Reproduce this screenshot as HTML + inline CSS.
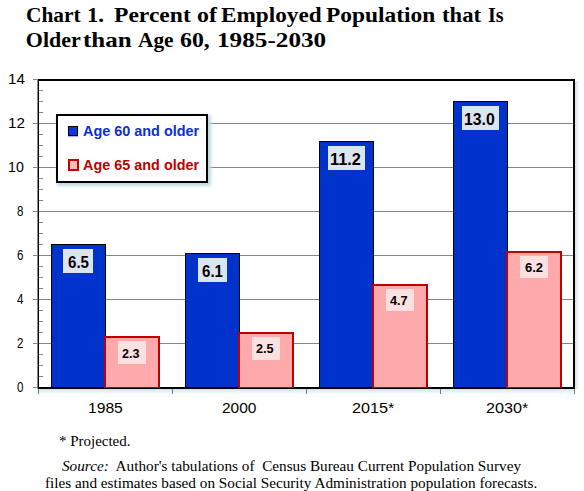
<!DOCTYPE html>
<html><head><meta charset="utf-8"><style>
html,body{margin:0;padding:0;background:#fff;}
body{width:584px;height:491px;position:relative;overflow:hidden;}
div{position:absolute;}
.tx{white-space:pre;transform-origin:0 0;line-height:normal;}
</style></head><body>
<div style="left:33px;top:343px;width:540px;height:1px;background:#878787"></div>
<div style="left:33px;top:299px;width:540px;height:1px;background:#878787"></div>
<div style="left:33px;top:255px;width:540px;height:1px;background:#878787"></div>
<div style="left:33px;top:211px;width:540px;height:1px;background:#878787"></div>
<div style="left:33px;top:167px;width:540px;height:1px;background:#878787"></div>
<div style="left:33px;top:123px;width:540px;height:1px;background:#878787"></div>
<div style="left:33px;top:387px;width:5px;height:1px;background:#878787"></div>
<div style="left:33px;top:79px;width:5px;height:1px;background:#878787"></div>
<div style="left:39px;top:376px;width:4px;height:1px;background:#878787"></div>
<div style="left:39px;top:365px;width:4px;height:1px;background:#878787"></div>
<div style="left:39px;top:354px;width:4px;height:1px;background:#878787"></div>
<div style="left:39px;top:332px;width:4px;height:1px;background:#878787"></div>
<div style="left:39px;top:321px;width:4px;height:1px;background:#878787"></div>
<div style="left:39px;top:310px;width:4px;height:1px;background:#878787"></div>
<div style="left:39px;top:288px;width:4px;height:1px;background:#878787"></div>
<div style="left:39px;top:277px;width:4px;height:1px;background:#878787"></div>
<div style="left:39px;top:266px;width:4px;height:1px;background:#878787"></div>
<div style="left:39px;top:244px;width:4px;height:1px;background:#878787"></div>
<div style="left:39px;top:233px;width:4px;height:1px;background:#878787"></div>
<div style="left:39px;top:222px;width:4px;height:1px;background:#878787"></div>
<div style="left:39px;top:200px;width:4px;height:1px;background:#878787"></div>
<div style="left:39px;top:189px;width:4px;height:1px;background:#878787"></div>
<div style="left:39px;top:178px;width:4px;height:1px;background:#878787"></div>
<div style="left:39px;top:156px;width:4px;height:1px;background:#878787"></div>
<div style="left:39px;top:145px;width:4px;height:1px;background:#878787"></div>
<div style="left:39px;top:134px;width:4px;height:1px;background:#878787"></div>
<div style="left:39px;top:112px;width:4px;height:1px;background:#878787"></div>
<div style="left:39px;top:101px;width:4px;height:1px;background:#878787"></div>
<div style="left:39px;top:90px;width:4px;height:1px;background:#878787"></div>
<div style="left:39px;top:389px;width:536px;height:5px;background:linear-gradient(#d0e5ec,#fdfefe)"></div>
<div style="left:38px;top:389px;width:1px;height:5px;background:#7a7a7a"></div>
<div style="left:172px;top:389px;width:1px;height:5px;background:#7a7a7a"></div>
<div style="left:306px;top:389px;width:1px;height:5px;background:#7a7a7a"></div>
<div style="left:440px;top:389px;width:1px;height:5px;background:#7a7a7a"></div>
<div style="left:574px;top:389px;width:1px;height:5px;background:#7a7a7a"></div>
<div style="left:575px;top:81px;width:5px;height:308px;background:linear-gradient(90deg,#d2e3ea,#ffffff)"></div>
<div style="left:37px;top:79px;width:1px;height:310px;background:#8a8a8a"></div>
<div style="left:38px;top:79px;width:1px;height:310px;background:#000"></div>
<div style="left:38px;top:387px;width:537px;height:2px;background:#000"></div>
<div style="left:51px;top:244px;width:55px;height:144px;box-sizing:border-box;border:1px solid #000;background:#0032cc"></div>
<div style="left:185px;top:253px;width:55px;height:135px;box-sizing:border-box;border:1px solid #000;background:#0032cc"></div>
<div style="left:319px;top:141px;width:55px;height:247px;box-sizing:border-box;border:1px solid #000;background:#0032cc"></div>
<div style="left:453px;top:101px;width:55px;height:287px;box-sizing:border-box;border:1px solid #000;background:#0032cc"></div>
<div style="left:104px;top:336px;width:56px;height:53px;box-sizing:border-box;border:2px solid #c00000;background:#ffaaaa"></div>
<div style="left:238px;top:332px;width:56px;height:57px;box-sizing:border-box;border:2px solid #c00000;background:#ffaaaa"></div>
<div style="left:372px;top:284px;width:56px;height:105px;box-sizing:border-box;border:2px solid #c00000;background:#ffaaaa"></div>
<div style="left:506px;top:251px;width:56px;height:138px;box-sizing:border-box;border:2px solid #c00000;background:#ffaaaa"></div>
<div style="left:63px;top:249px;width:30px;height:24px;background:#dce4f0"></div>
<div style="left:198px;top:258px;width:29px;height:24px;background:#dce4f0"></div>
<div style="left:328px;top:146px;width:37px;height:24px;background:#dce4f0"></div>
<div style="left:462px;top:106px;width:37px;height:24px;background:#dce4f0"></div>
<div style="left:118px;top:341px;width:28px;height:23px;background:#fde0e0"></div>
<div style="left:252px;top:337px;width:28px;height:23px;background:#fde0e0"></div>
<div style="left:386px;top:289px;width:28px;height:22px;background:#fde0e0"></div>
<div style="left:520px;top:256px;width:28px;height:22px;background:#fde0e0"></div>
<div style="left:38px;top:388px;width:537px;height:1px;background:#000"></div>
<div style="left:38px;top:79px;width:537px;height:2px;background:#000"></div>
<div style="left:573px;top:79px;width:2px;height:310px;background:#000"></div>
<div style="left:56px;top:114px;width:152px;height:69px;box-sizing:border-box;border:2px solid #000;background:#fff;box-shadow:2px 2px 3px 1px #c0d9e1"></div>
<div style="left:68px;top:126px;width:10px;height:10px;box-sizing:border-box;border:1px solid #000;background:#1034e0;box-shadow:0 1px 1px #a9b9f0"></div>
<div style="left:68px;top:159px;width:11px;height:12px;box-sizing:border-box;border:2px solid #c80000;background:#ffbcbc"></div>
<div class="tx" style="left:26.23px;top:1.60px;transform:scaleX(0.9714);font-family:'Liberation Serif',serif;font-weight:bold;font-size:22px;color:#000">Chart</div>
<div class="tx" style="left:86.67px;top:1.60px;transform:scaleX(1.0333);font-family:'Liberation Serif',serif;font-weight:bold;font-size:22px;color:#000">1.</div>
<div class="tx" style="left:113.70px;top:1.60px;transform:scaleX(1.0708);font-family:'Liberation Serif',serif;font-weight:bold;font-size:22px;color:#000">Percent</div>
<div class="tx" style="left:196.80px;top:1.60px;transform:scaleX(1.0842);font-family:'Liberation Serif',serif;font-weight:bold;font-size:22px;color:#000">of</div>
<div class="tx" style="left:220.80px;top:1.60px;transform:scaleX(1.0558);font-family:'Liberation Serif',serif;font-weight:bold;font-size:22px;color:#000">Employed</div>
<div class="tx" style="left:326.20px;top:1.60px;transform:scaleX(1.0650);font-family:'Liberation Serif',serif;font-weight:bold;font-size:22px;color:#000">Population</div>
<div class="tx" style="left:442.00px;top:1.60px;transform:scaleX(1.0289);font-family:'Liberation Serif',serif;font-weight:bold;font-size:22px;color:#000">that</div>
<div class="tx" style="left:488.00px;top:1.60px;transform:scaleX(0.9118);font-family:'Liberation Serif',serif;font-weight:bold;font-size:22px;color:#000">Is</div>
<div class="tx" style="left:25.80px;top:27.40px;font-family:'Liberation Serif',serif;font-weight:bold;font-size:22px;color:#000">Older</div>
<div class="tx" style="left:83.40px;top:27.40px;transform:scaleX(1.1372);font-family:'Liberation Serif',serif;font-weight:bold;font-size:22px;color:#000">than</div>
<div class="tx" style="left:138.30px;top:27.40px;transform:scaleX(0.9703);font-family:'Liberation Serif',serif;font-weight:bold;font-size:22px;color:#000">Age</div>
<div class="tx" style="left:180.20px;top:27.40px;transform:scaleX(1.0815);font-family:'Liberation Serif',serif;font-weight:bold;font-size:22px;color:#000">60,</div>
<div class="tx" style="left:216.85px;top:27.40px;transform:scaleX(1.1457);font-family:'Liberation Serif',serif;font-weight:bold;font-size:22px;color:#000">1985-2030</div>
<div class="tx" style="left:68.00px;top:254.00px;transform:scaleX(0.9545);font-family:'Liberation Sans',sans-serif;font-weight:bold;font-size:15.8px;color:#000">6.5</div>
<div class="tx" style="left:202.00px;top:263.00px;transform:scaleX(0.9545);font-family:'Liberation Sans',sans-serif;font-weight:bold;font-size:15.8px;color:#000">6.1</div>
<div class="tx" style="left:329.97px;top:151.00px;transform:scaleX(1.0345);font-family:'Liberation Sans',sans-serif;font-weight:bold;font-size:15.8px;color:#000">11.2</div>
<div class="tx" style="left:464.00px;top:111.00px;font-family:'Liberation Sans',sans-serif;font-weight:bold;font-size:15.8px;color:#000">13.0</div>
<div class="tx" style="left:122.00px;top:346.00px;transform:scaleX(0.9667);font-family:'Liberation Sans',sans-serif;font-weight:bold;font-size:13px;color:#000">2.3</div>
<div class="tx" style="left:256.00px;top:341.00px;transform:scaleX(0.9722);font-family:'Liberation Sans',sans-serif;font-weight:bold;font-size:13px;color:#000">2.5</div>
<div class="tx" style="left:390.00px;top:293.00px;transform:scaleX(0.9778);font-family:'Liberation Sans',sans-serif;font-weight:bold;font-size:13px;color:#000">4.7</div>
<div class="tx" style="left:525.00px;top:260.00px;font-family:'Liberation Sans',sans-serif;font-weight:bold;font-size:13px;color:#000">6.2</div>
<div class="tx" style="left:17.40px;top:379.40px;transform:scaleX(0.8250);font-family:'Liberation Sans',sans-serif;font-size:14px;color:#000">0</div>
<div class="tx" style="left:17.40px;top:335.40px;transform:scaleX(0.8250);font-family:'Liberation Sans',sans-serif;font-size:14px;color:#000">2</div>
<div class="tx" style="left:17.40px;top:291.40px;transform:scaleX(0.8250);font-family:'Liberation Sans',sans-serif;font-size:14px;color:#000">4</div>
<div class="tx" style="left:17.40px;top:247.40px;transform:scaleX(0.8250);font-family:'Liberation Sans',sans-serif;font-size:14px;color:#000">6</div>
<div class="tx" style="left:17.40px;top:203.40px;transform:scaleX(0.8250);font-family:'Liberation Sans',sans-serif;font-size:14px;color:#000">8</div>
<div class="tx" style="left:7.79px;top:159.40px;transform:scaleX(1.0133);font-family:'Liberation Sans',sans-serif;font-size:14px;color:#000">10</div>
<div class="tx" style="left:7.71px;top:115.40px;transform:scaleX(1.0857);font-family:'Liberation Sans',sans-serif;font-size:14px;color:#000">12</div>
<div class="tx" style="left:7.71px;top:71.40px;transform:scaleX(1.0857);font-family:'Liberation Sans',sans-serif;font-size:14px;color:#000">14</div>
<div class="tx" style="left:87.66px;top:399.00px;transform:scaleX(1.0437);font-family:'Liberation Sans',sans-serif;font-size:15px;color:#000">1985</div>
<div class="tx" style="left:222.00px;top:399.00px;transform:scaleX(1.0303);font-family:'Liberation Sans',sans-serif;font-size:15px;color:#000">2000</div>
<div class="tx" style="left:352.00px;top:399.00px;transform:scaleX(1.0769);font-family:'Liberation Sans',sans-serif;font-size:15px;color:#000">2015*</div>
<div class="tx" style="left:486.00px;top:399.00px;transform:scaleX(1.0769);font-family:'Liberation Sans',sans-serif;font-size:15px;color:#000">2030*</div>
<div class="tx" style="left:82.50px;top:121.60px;transform:scaleX(0.9363);font-family:'Liberation Sans',sans-serif;font-weight:bold;font-size:15.4px;color:#0a2ed8">Age 60 and older</div>
<div class="tx" style="left:82.50px;top:155.60px;transform:scaleX(0.9363);font-family:'Liberation Sans',sans-serif;font-weight:bold;font-size:15.4px;color:#c00000">Age 65 and older</div>
<div class="tx" style="left:58.75px;top:433.20px;transform:scaleX(0.9979);font-family:'Liberation Serif',serif;font-size:15px;color:#000">* Projected.</div>
<div class="tx" style="left:61.60px;top:458.00px;transform:scaleX(1.0153);font-family:'Liberation Serif',serif;font-size:15px;color:#000"><i>Source:</i>  Author's tabulations of  Census Bureau Current Population Survey</div>
<div class="tx" style="left:45.18px;top:474.50px;transform:scaleX(1.0153);font-family:'Liberation Serif',serif;font-size:15px;color:#000">files and estimates based on Social Security Administration population forecasts.</div>
</body></html>
